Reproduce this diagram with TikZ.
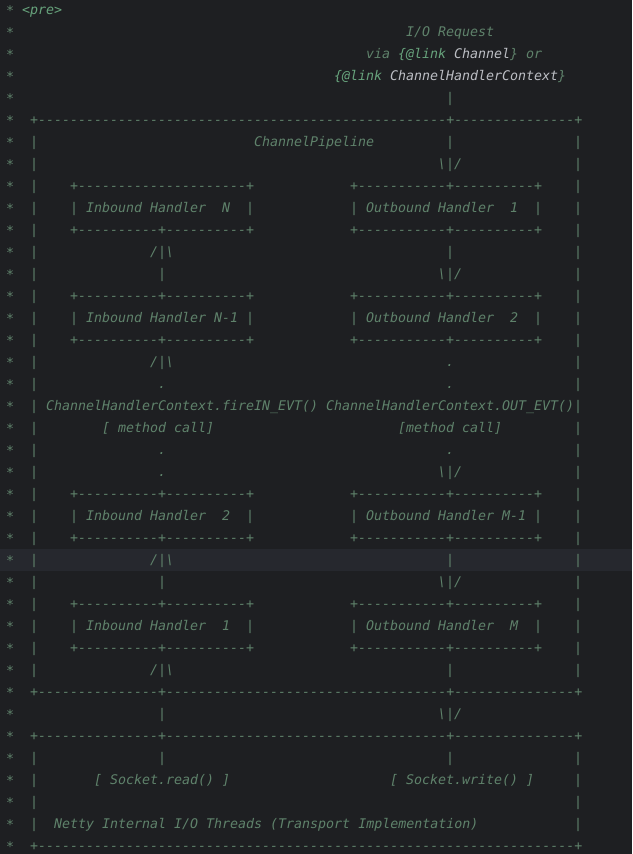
\documentclass[tikz,border=0pt]{standalone}
\usepackage{fontspec}
\setmonofont{DejaVu Sans Mono}
\definecolor{bg}{HTML}{1E1F22}
\definecolor{hl}{HTML}{26282E}
\definecolor{cmt}{HTML}{5F826B}
\definecolor{tag}{HTML}{67A37C}
\definecolor{ref}{HTML}{BCBEC4}
\ExplSyntaxOn
\cs_new:Npn \myrep #1#2 { \prg_replicate:nn {#1} {#2} }
\ExplSyntaxOff
\newcommand\BS{\textbackslash}
\newcommand\Seg[4][cmt]{\node[seg,text=#1] (r#2c#3) at ({6+8*#3},{839-22*(#2-1)}) {#4};}
\newcommand\InTop[1]{\Seg{#1}{8}{+\myrep{21}{-}+}}
\newcommand\InMid[1]{\Seg{#1}{8}{+\myrep{10}{-}+\myrep{10}{-}+}}
\newcommand\OutBox[1]{\Seg{#1}{43}{+\myrep{11}{-}+\myrep{10}{-}+}}
\tikzset{seg/.style={anchor=base west,inner sep=0pt,outer sep=0pt,
  font=\ttfamily\itshape\fontsize{13.3}{16}\selectfont}}
\begin{document}
\begin{tikzpicture}[x=1pt,y=1pt]
\fill[bg] (0,0) rectangle (632,854);
\useasboundingbox (0,0) rectangle (632,854);
\fill[hl] (0,283) rectangle (632,305);
% stars
\foreach \r in {1,...,39} {\node[seg,text=cmt,font=\ttfamily\upshape\fontsize{13.3}{16}\selectfont] (st\r) at (6,{838-22*(\r-1)}) {*};}
% side bars
\foreach \r in {7,...,31,35,36,37,38} {\Seg{\r}{3}{|}\Seg{\r}{71}{|}}
% header
\Seg[tag]{1}{2}{<pre>}
\Seg{2}{50}{I/O Request}
\Seg{3}{45}{via}
\Seg[tag]{3}{49}{\{@link}
\Seg[ref]{3}{56}{Channel}
\Seg{3}{63}{\} or}
\Seg[tag]{4}{41}{\{@link}
\Seg[ref]{4}{48}{ChannelHandlerContext}
\Seg{4}{69}{\}}
\Seg{5}{55}{|}
% pipeline top border
\Seg{6}{3}{+\myrep{51}{-}+\myrep{15}{-}+}
\Seg{7}{31}{ChannelPipeline}
\Seg{7}{55}{|}
\Seg{8}{54}{\BS|/}
% handler pair 1
\InTop{9}\OutBox{9}
\Seg{10}{8}{| Inbound Handler~~N~~|}
\Seg{10}{43}{| Outbound Handler~~1~~|}
\InMid{11}\OutBox{11}
\Seg{12}{18}{/|\BS}\Seg{12}{55}{|}
\Seg{13}{19}{|}\Seg{13}{54}{\BS|/}
% handler pair 2
\InMid{14}\OutBox{14}
\Seg{15}{8}{| Inbound Handler N-1 |}
\Seg{15}{43}{| Outbound Handler~~2~~|}
\InMid{16}\OutBox{16}
\Seg{17}{18}{/|\BS}\Seg{17}{55}{.}
\Seg{18}{19}{.}\Seg{18}{55}{.}
\Seg{19}{5}{ChannelHandlerContext.fireIN\_EVT()}
\Seg{19}{40}{ChannelHandlerContext.OUT\_EVT()}
\Seg{20}{12}{[ method call]}
\Seg{20}{49}{[method call]}
\Seg{21}{19}{.}\Seg{21}{55}{.}
\Seg{22}{19}{.}\Seg{22}{54}{\BS|/}
% handler pair 3
\InMid{23}\OutBox{23}
\Seg{24}{8}{| Inbound Handler~~2~~|}
\Seg{24}{43}{| Outbound Handler M-1 |}
\InMid{25}\OutBox{25}
\Seg{26}{18}{/|\BS}\Seg{26}{55}{|}
\Seg{27}{19}{|}\Seg{27}{54}{\BS|/}
% handler pair 4
\InMid{28}\OutBox{28}
\Seg{29}{8}{| Inbound Handler~~1~~|}
\Seg{29}{43}{| Outbound Handler~~M~~|}
\InMid{30}\OutBox{30}
\Seg{31}{18}{/|\BS}\Seg{31}{55}{|}
% pipeline bottom / transport top
\Seg{32}{3}{+\myrep{15}{-}+\myrep{35}{-}+\myrep{15}{-}+}
\Seg{33}{19}{|}\Seg{33}{54}{\BS|/}
\Seg{34}{3}{+\myrep{15}{-}+\myrep{35}{-}+\myrep{15}{-}+}
\Seg{35}{19}{|}\Seg{35}{55}{|}
\Seg{36}{11}{[ Socket.read() ]}
\Seg{36}{48}{[ Socket.write() ]}
\Seg{38}{6}{Netty Internal I/O Threads (Transport Implementation)}
\Seg{39}{3}{+\myrep{67}{-}+}
\end{tikzpicture}
\end{document}
